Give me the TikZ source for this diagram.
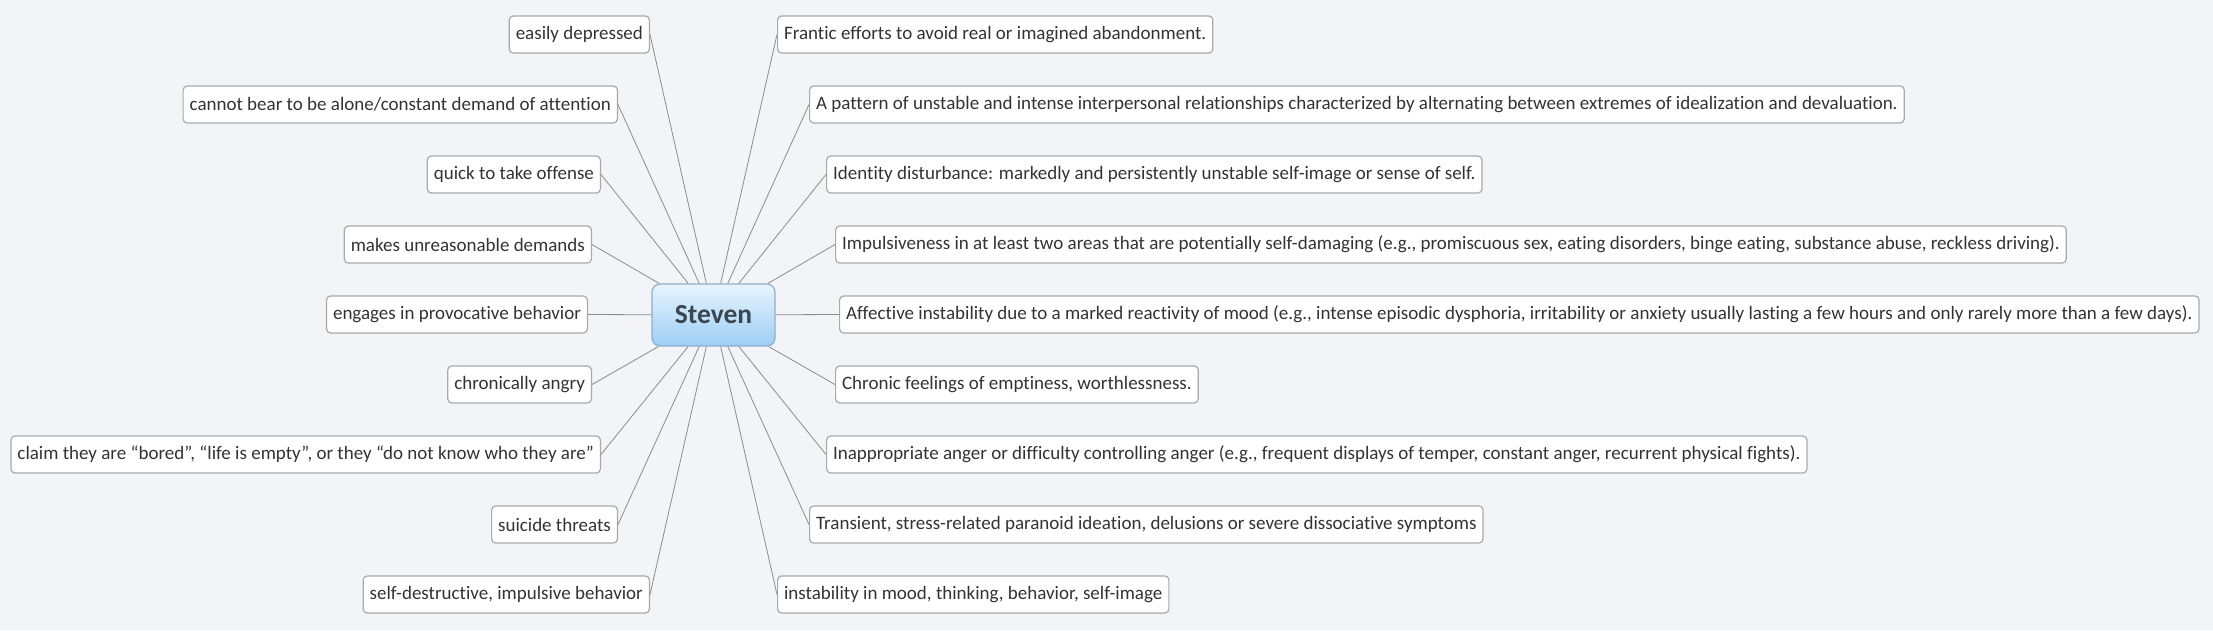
\documentclass[tikz,border=0pt]{standalone}
\usepackage{fontspec}
\setmainfont{Carlito}[Ligatures={NoCommon}]
\definecolor{bgcol}{HTML}{F3F4F8}
\definecolor{leafline}{HTML}{A9A9A9}
\definecolor{linkcol}{HTML}{8C8C8C}
\definecolor{textcol}{HTML}{333333}
\definecolor{roottop}{HTML}{E8F4FE}
\definecolor{rootbot}{HTML}{9DCEF6}
\definecolor{rootline}{HTML}{8FAECB}
\definecolor{roottext}{HTML}{3C4650}

\begin{document}
\begin{tikzpicture}[x=1pt,y=-1pt]
\tikzstyle{leaf}=[draw=leafline, line width=1.2pt, fill=white, rounded corners=4pt,
  inner xsep=6.5pt, inner ysep=0pt, minimum height=37pt, text=textcol,
  font=\fontsize{19}{23}\selectfont]
\tikzstyle{root}=[draw=rootline, line width=1.2pt, top color=roottop, bottom color=rootbot,
  rounded corners=8pt, minimum width=123pt, minimum height=62pt, inner sep=0pt,
  text=roottext, font=\fontsize{27.5}{32}\selectfont\bfseries]
\tikzstyle{link}=[draw=linkcol, line width=0.8pt]
\fill [bgcol] (0,0) rectangle (2213,630);
\useasboundingbox (0,0) rectangle (2213,630);
% central topic
\node [root] (steven) at (713.5,315) {Steven};
% left branch
\node [leaf, anchor=east] (depressed) at (650,34.5) {easily depressed};
\node [leaf, anchor=east] (alone) at (618,104.5) {cannot bear to be alone/constant demand of attention};
\node [leaf, anchor=east] (offense) at (601,174.5) {quick to take offense};
\node [leaf, anchor=east] (demands) at (592,244.5) {makes unreasonable demands};
\node [leaf, anchor=east] (provoke) at (588,314.5) {engages in provocative behavior};
\node [leaf, anchor=east] (angry) at (592,384.5) {chronically angry};
\node [leaf, anchor=east] (bored) at (601,454.5) {claim they are “bored”, “life is empty”, or they “do not know who they are”};
\node [leaf, anchor=east] (threats) at (618,524.5) {suicide threats};
\node [leaf, anchor=east] (destruct) at (650,594.5) {self-destructive, impulsive behavior};
% right branch
\node [leaf, anchor=west] (frantic) at (777,34.5) {Frantic efforts to avoid real or imagined abandonment.};
\node [leaf, anchor=west] (pattern) at (809,104.5) {A pattern of unstable and intense interpersonal relationships characterized by alternating between extremes of idealization and devaluation.};
\node [leaf, anchor=west] (identity) at (826,174.5) {Identity disturbance: markedly and persistently unstable self-image or sense of self.};
\node [leaf, anchor=west] (impulse) at (835,244.5) {Impulsiveness in at least two areas that are potentially self-damaging (e.g., promiscuous sex, eating disorders, binge eating, substance abuse, reckless driving).};
\node [leaf, anchor=west] (affect) at (839,314.5) {Affective instability due to a marked reactivity of mood (e.g., intense episodic dysphoria, irritability or anxiety usually lasting a few hours and only rarely more than a few days).};
\node [leaf, anchor=west] (empty) at (835,384.5) {Chronic feelings of emptiness, worthlessness.};
\node [leaf, anchor=west] (anger) at (826,454.5) {Inappropriate anger or difficulty controlling anger (e.g., frequent displays of temper, constant anger, recurrent physical fights).};
\node [leaf, anchor=west] (paranoid) at (809,524.5) {Transient, stress-related paranoid ideation, delusions or severe dissociative symptoms};
\node [leaf, anchor=west] (mood) at (777,594.5) {instability in mood, thinking, behavior, self-image};
% connectors
\draw [link] (steven) -- (depressed.east);
\draw [link] (steven) -- (alone.east);
\draw [link] (steven) -- (offense.east);
\draw [link] (steven) -- (demands.east);
\draw [link] (steven) -- (provoke.east);
\draw [link] (steven) -- (angry.east);
\draw [link] (steven) -- (bored.east);
\draw [link] (steven) -- (threats.east);
\draw [link] (steven) -- (destruct.east);
\draw [link] (steven) -- (frantic.west);
\draw [link] (steven) -- (pattern.west);
\draw [link] (steven) -- (identity.west);
\draw [link] (steven) -- (impulse.west);
\draw [link] (steven) -- (affect.west);
\draw [link] (steven) -- (empty.west);
\draw [link] (steven) -- (anger.west);
\draw [link] (steven) -- (paranoid.west);
\draw [link] (steven) -- (mood.west);
\end{tikzpicture}
\end{document}
